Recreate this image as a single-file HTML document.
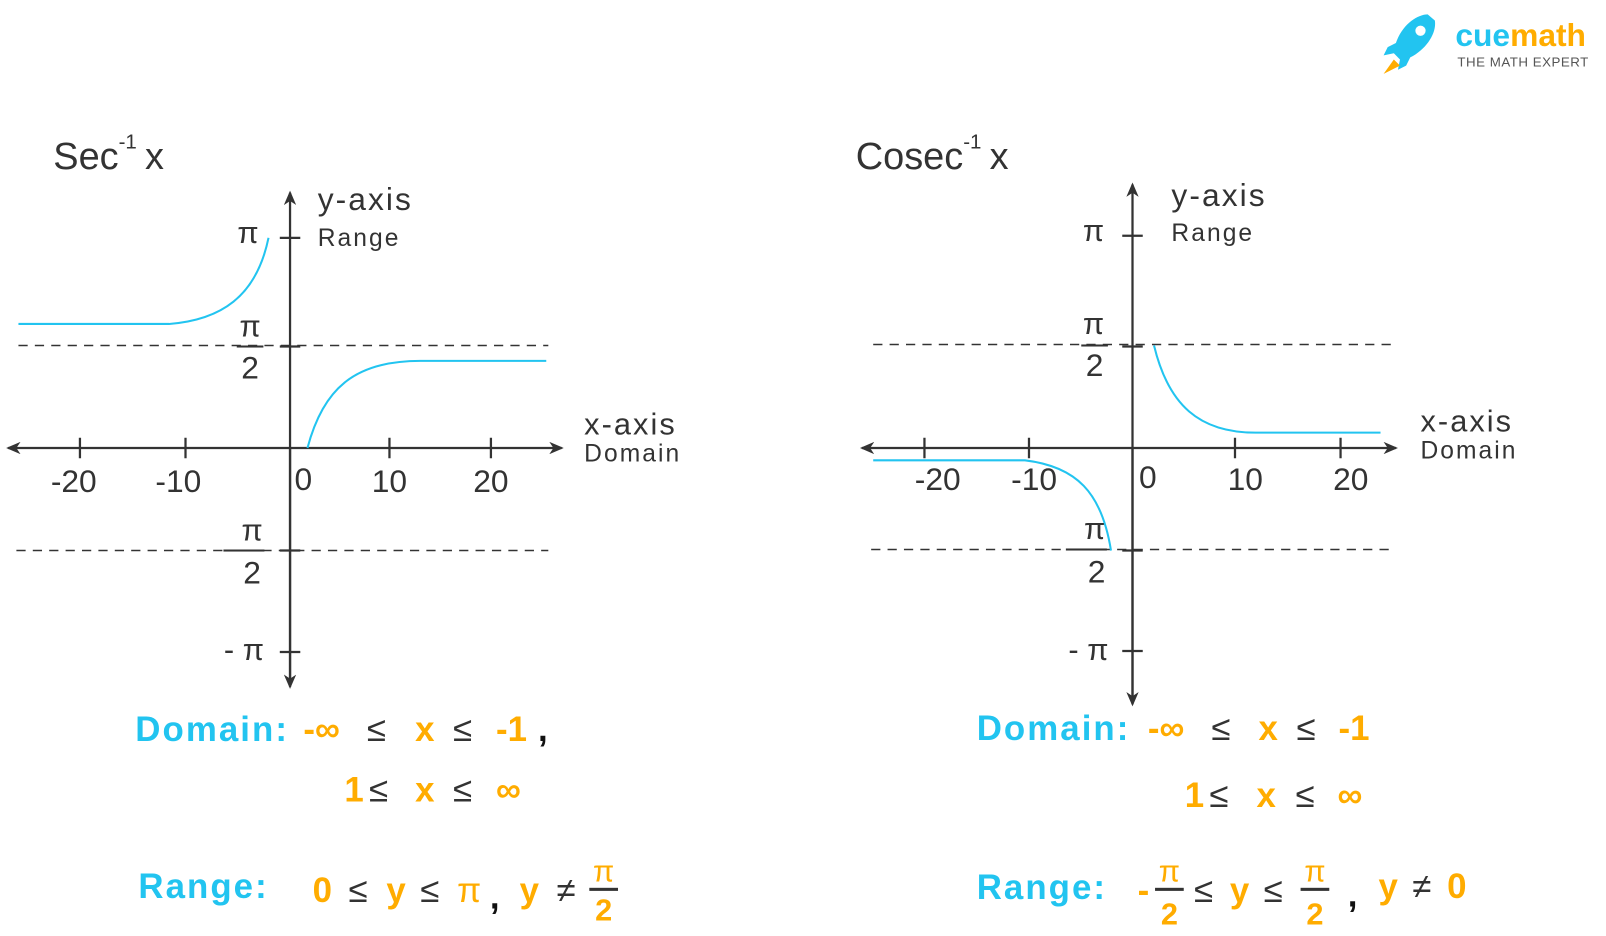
<!DOCTYPE html>
<html><head><meta charset="utf-8"><style>
html,body{margin:0;padding:0;background:#fff;}
svg{display:block;}
text{font-family:"Liberation Sans",sans-serif;}
</style></head><body>
<svg width="1606" height="936" viewBox="0 0 1567 913" preserveAspectRatio="none" xmlns="http://www.w3.org/2000/svg">
<defs>
<marker id="ah" markerWidth="14" markerHeight="12" refX="12" refY="6" orient="auto" markerUnits="userSpaceOnUse"><path d="M0,0 L14,6 L0,12 L4,6 Z" fill="#333"/></marker>
</defs>
<!-- logo -->
<g transform="translate(1348,12)">
<path d="M45,2 C35,2 20,12 14,30 L6,34 L2,42 L12,40 L18,46 L16,56 L24,52 L28,44 C44,36 54,20 52,8 Z" fill="#22c4f0"/>
<circle cx="38" cy="18" r="5" fill="#fff"/>
<path d="M12,46 L2,60 L18,52 Z" fill="#ffac00"/>
</g>
<text x="1420" y="45" font-size="31" font-weight="bold" fill="#22c4f0">cue<tspan fill="#ffac00">math</tspan></text>
<text x="1422" y="65" font-size="13" fill="#555" letter-spacing="0.5">THE MATH EXPERT</text>

<!-- LEFT CHART -->
<g stroke="#333" stroke-width="2.2" fill="none">
<line x1="283" y1="668" x2="283" y2="188" marker-end="url(#ah)"/>
<line x1="283" y1="437" x2="283" y2="670" marker-end="url(#ah)"/>
<line x1="283" y1="437" x2="548" y2="437" marker-end="url(#ah)"/>
<line x1="283" y1="437" x2="8" y2="437" marker-end="url(#ah)"/>
<line x1="78" y1="427" x2="78" y2="447"/><line x1="181" y1="427" x2="181" y2="447"/>
<line x1="380" y1="427" x2="380" y2="447"/><line x1="479" y1="427" x2="479" y2="447"/>
<line x1="273" y1="232" x2="293" y2="232"/><line x1="273" y1="338" x2="293" y2="338"/>
<line x1="273" y1="537" x2="293" y2="537"/><line x1="273" y1="636" x2="293" y2="636"/>
</g>
<g stroke="#333" stroke-width="1.5" stroke-dasharray="9,7">
<line x1="18" y1="337" x2="535" y2="337"/><line x1="16" y1="537" x2="535" y2="537"/>
</g>
<g stroke="#22c4f0" stroke-width="2" fill="none">
<path d="M18,316 L165,316 C215,312 250,290 262,232"/>
<path d="M300,437 C315,380 345,352 410,352 L533,352"/>
</g>
<g fill="#333">
<text x="52" y="165" font-size="37">Sec<tspan font-size="20" dy="-20">-1</tspan><tspan dy="20" dx="8">x</tspan></text>
<text x="310" y="205" font-size="31" letter-spacing="2">y-axis</text>
<text x="310" y="240" font-size="24" letter-spacing="2">Range</text>
<text x="570" y="424" font-size="30" letter-spacing="2">x-axis</text>
<text x="570" y="450" font-size="24" letter-spacing="2">Domain</text>
<g font-size="31" text-anchor="middle">
<text x="72" y="480">-20</text><text x="174" y="480">-10</text><text x="296" y="478">0</text>
<text x="380" y="480">10</text><text x="479" y="480">20</text>
</g>
<g font-size="30" text-anchor="middle" font-family="Liberation Serif">
<text x="242" y="237">π</text><text x="244" y="328">π</text><text x="246" y="527">π</text><text x="238" y="644">- π</text>
</g>
<g font-size="31" text-anchor="middle"><text x="244" y="369">2</text><text x="246" y="569">2</text></g>
<rect x="231" y="337" width="26" height="2"/><rect x="218" y="536" width="40" height="2"/>
</g>

<!-- RIGHT CHART -->
<g stroke="#333" stroke-width="2.2" fill="none">
<line x1="1105" y1="685" x2="1105" y2="180" marker-end="url(#ah)"/>
<line x1="1105" y1="437" x2="1105" y2="687" marker-end="url(#ah)"/>
<line x1="1105" y1="437" x2="1362" y2="437" marker-end="url(#ah)"/>
<line x1="1105" y1="437" x2="841" y2="437" marker-end="url(#ah)"/>
<line x1="902" y1="427" x2="902" y2="447"/><line x1="1004" y1="427" x2="1004" y2="447"/>
<line x1="1205" y1="427" x2="1205" y2="447"/><line x1="1308" y1="427" x2="1308" y2="447"/>
<line x1="1095" y1="230" x2="1115" y2="230"/><line x1="1095" y1="338" x2="1115" y2="338"/>
<line x1="1095" y1="537" x2="1115" y2="537"/><line x1="1095" y1="635" x2="1115" y2="635"/>
</g>
<g stroke="#333" stroke-width="1.5" stroke-dasharray="9,7">
<line x1="852" y1="336" x2="1357" y2="336"/><line x1="850" y1="536" x2="1355" y2="536"/>
</g>
<g stroke="#22c4f0" stroke-width="2" fill="none">
<path d="M1126,337 C1140,395 1170,422 1225,422 L1347,422"/>
<path d="M852,449 L1000,449 C1050,455 1075,480 1084,537"/>
</g>
<g fill="#333">
<text x="835" y="165" font-size="37">Cosec<tspan font-size="20" dy="-20">-1</tspan><tspan dy="20" dx="8">x</tspan></text>
<text x="1143" y="201" font-size="31" letter-spacing="2">y-axis</text>
<text x="1143" y="235" font-size="24" letter-spacing="2">Range</text>
<text x="1386" y="421" font-size="30" letter-spacing="2">x-axis</text>
<text x="1386" y="447" font-size="24" letter-spacing="2">Domain</text>
<g font-size="31" text-anchor="middle">
<text x="915" y="478">-20</text><text x="1009" y="478">-10</text><text x="1120" y="476">0</text>
<text x="1215" y="478">10</text><text x="1318" y="478">20</text>
</g>
<g font-size="30" text-anchor="middle" font-family="Liberation Serif">
<text x="1067" y="235">π</text><text x="1067" y="326">π</text><text x="1068" y="526">π</text><text x="1062" y="644">- π</text>
</g>
<g font-size="31" text-anchor="middle"><text x="1068" y="367">2</text><text x="1070" y="568">2</text></g>
<rect x="1055" y="336" width="26" height="2"/><rect x="1040" y="535" width="40" height="2"/>
</g>

<!-- LEFT TEXT -->
<g font-size="34" font-weight="bold">
<text x="132" y="723" fill="#22c4f0" letter-spacing="2">Domain:</text>
<text x="296" y="723" fill="#ffac00">-∞</text>
<text x="358" y="723" fill="#333" font-weight="normal">≤</text>
<text x="405" y="723" fill="#ffac00">x</text>
<text x="442" y="723" fill="#333" font-weight="normal">≤</text>
<text x="484" y="723" fill="#ffac00">-1</text>
<text x="525" y="723" fill="#111">,</text>
<text x="336" y="782" fill="#ffac00">1</text>
<text x="360" y="782" fill="#333" font-weight="normal">≤</text>
<text x="405" y="782" fill="#ffac00">x</text>
<text x="442" y="782" fill="#333" font-weight="normal">≤</text>
<text x="484" y="782" fill="#ffac00">∞</text>
<text x="135" y="876" fill="#22c4f0" letter-spacing="2">Range:</text>
<text x="305" y="880" fill="#ffac00">0</text>
<text x="340" y="880" fill="#333" font-weight="normal">≤</text>
<text x="377" y="880" fill="#ffac00">y</text>
<text x="410" y="880" fill="#333" font-weight="normal">≤</text>
<text x="446" y="880" fill="#ffac00" font-family="Liberation Serif" font-weight="normal">π</text>
<text x="478" y="886" fill="#111">,</text>
<text x="507" y="880" fill="#ffac00">y</text>
<text x="543" y="880" fill="#333" font-weight="normal">≠</text>
<text x="589" y="860" fill="#ffac00" font-size="30" text-anchor="middle" font-family="Liberation Serif" font-weight="normal">π</text>
<rect x="575" y="866" width="28" height="3" fill="#333"/>
<text x="589" y="898" fill="#ffac00" font-size="30" text-anchor="middle">2</text>
</g>

<!-- RIGHT TEXT -->
<g font-size="34" font-weight="bold">
<text x="953" y="722" fill="#22c4f0" letter-spacing="2">Domain:</text>
<text x="1120" y="722" fill="#ffac00">-∞</text>
<text x="1182" y="722" fill="#333" font-weight="normal">≤</text>
<text x="1228" y="722" fill="#ffac00">x</text>
<text x="1265" y="722" fill="#333" font-weight="normal">≤</text>
<text x="1306" y="722" fill="#ffac00">-1</text>
<text x="1156" y="787" fill="#ffac00">1</text>
<text x="1180" y="787" fill="#333" font-weight="normal">≤</text>
<text x="1226" y="787" fill="#ffac00">x</text>
<text x="1264" y="787" fill="#333" font-weight="normal">≤</text>
<text x="1305" y="787" fill="#ffac00">∞</text>
<text x="953" y="877" fill="#22c4f0" letter-spacing="2">Range:</text>
<text x="1110" y="880" fill="#ffac00">-</text>
<text x="1141" y="860" fill="#ffac00" font-size="30" text-anchor="middle" font-family="Liberation Serif" font-weight="normal">π</text>
<rect x="1127" y="866" width="28" height="3" fill="#333"/>
<text x="1141" y="902" fill="#ffac00" font-size="30" text-anchor="middle">2</text>
<text x="1165" y="880" fill="#333" font-weight="normal">≤</text>
<text x="1200" y="880" fill="#ffac00">y</text>
<text x="1233" y="880" fill="#333" font-weight="normal">≤</text>
<text x="1283" y="860" fill="#ffac00" font-size="30" text-anchor="middle" font-family="Liberation Serif" font-weight="normal">π</text>
<rect x="1269" y="866" width="28" height="3" fill="#333"/>
<text x="1283" y="902" fill="#ffac00" font-size="30" text-anchor="middle">2</text>
<text x="1315" y="884" fill="#111">,</text>
<text x="1345" y="876" fill="#ffac00">y</text>
<text x="1378" y="876" fill="#333" font-weight="normal">≠</text>
<text x="1412" y="876" fill="#ffac00">0</text>
</g>
</svg>
</body></html>
